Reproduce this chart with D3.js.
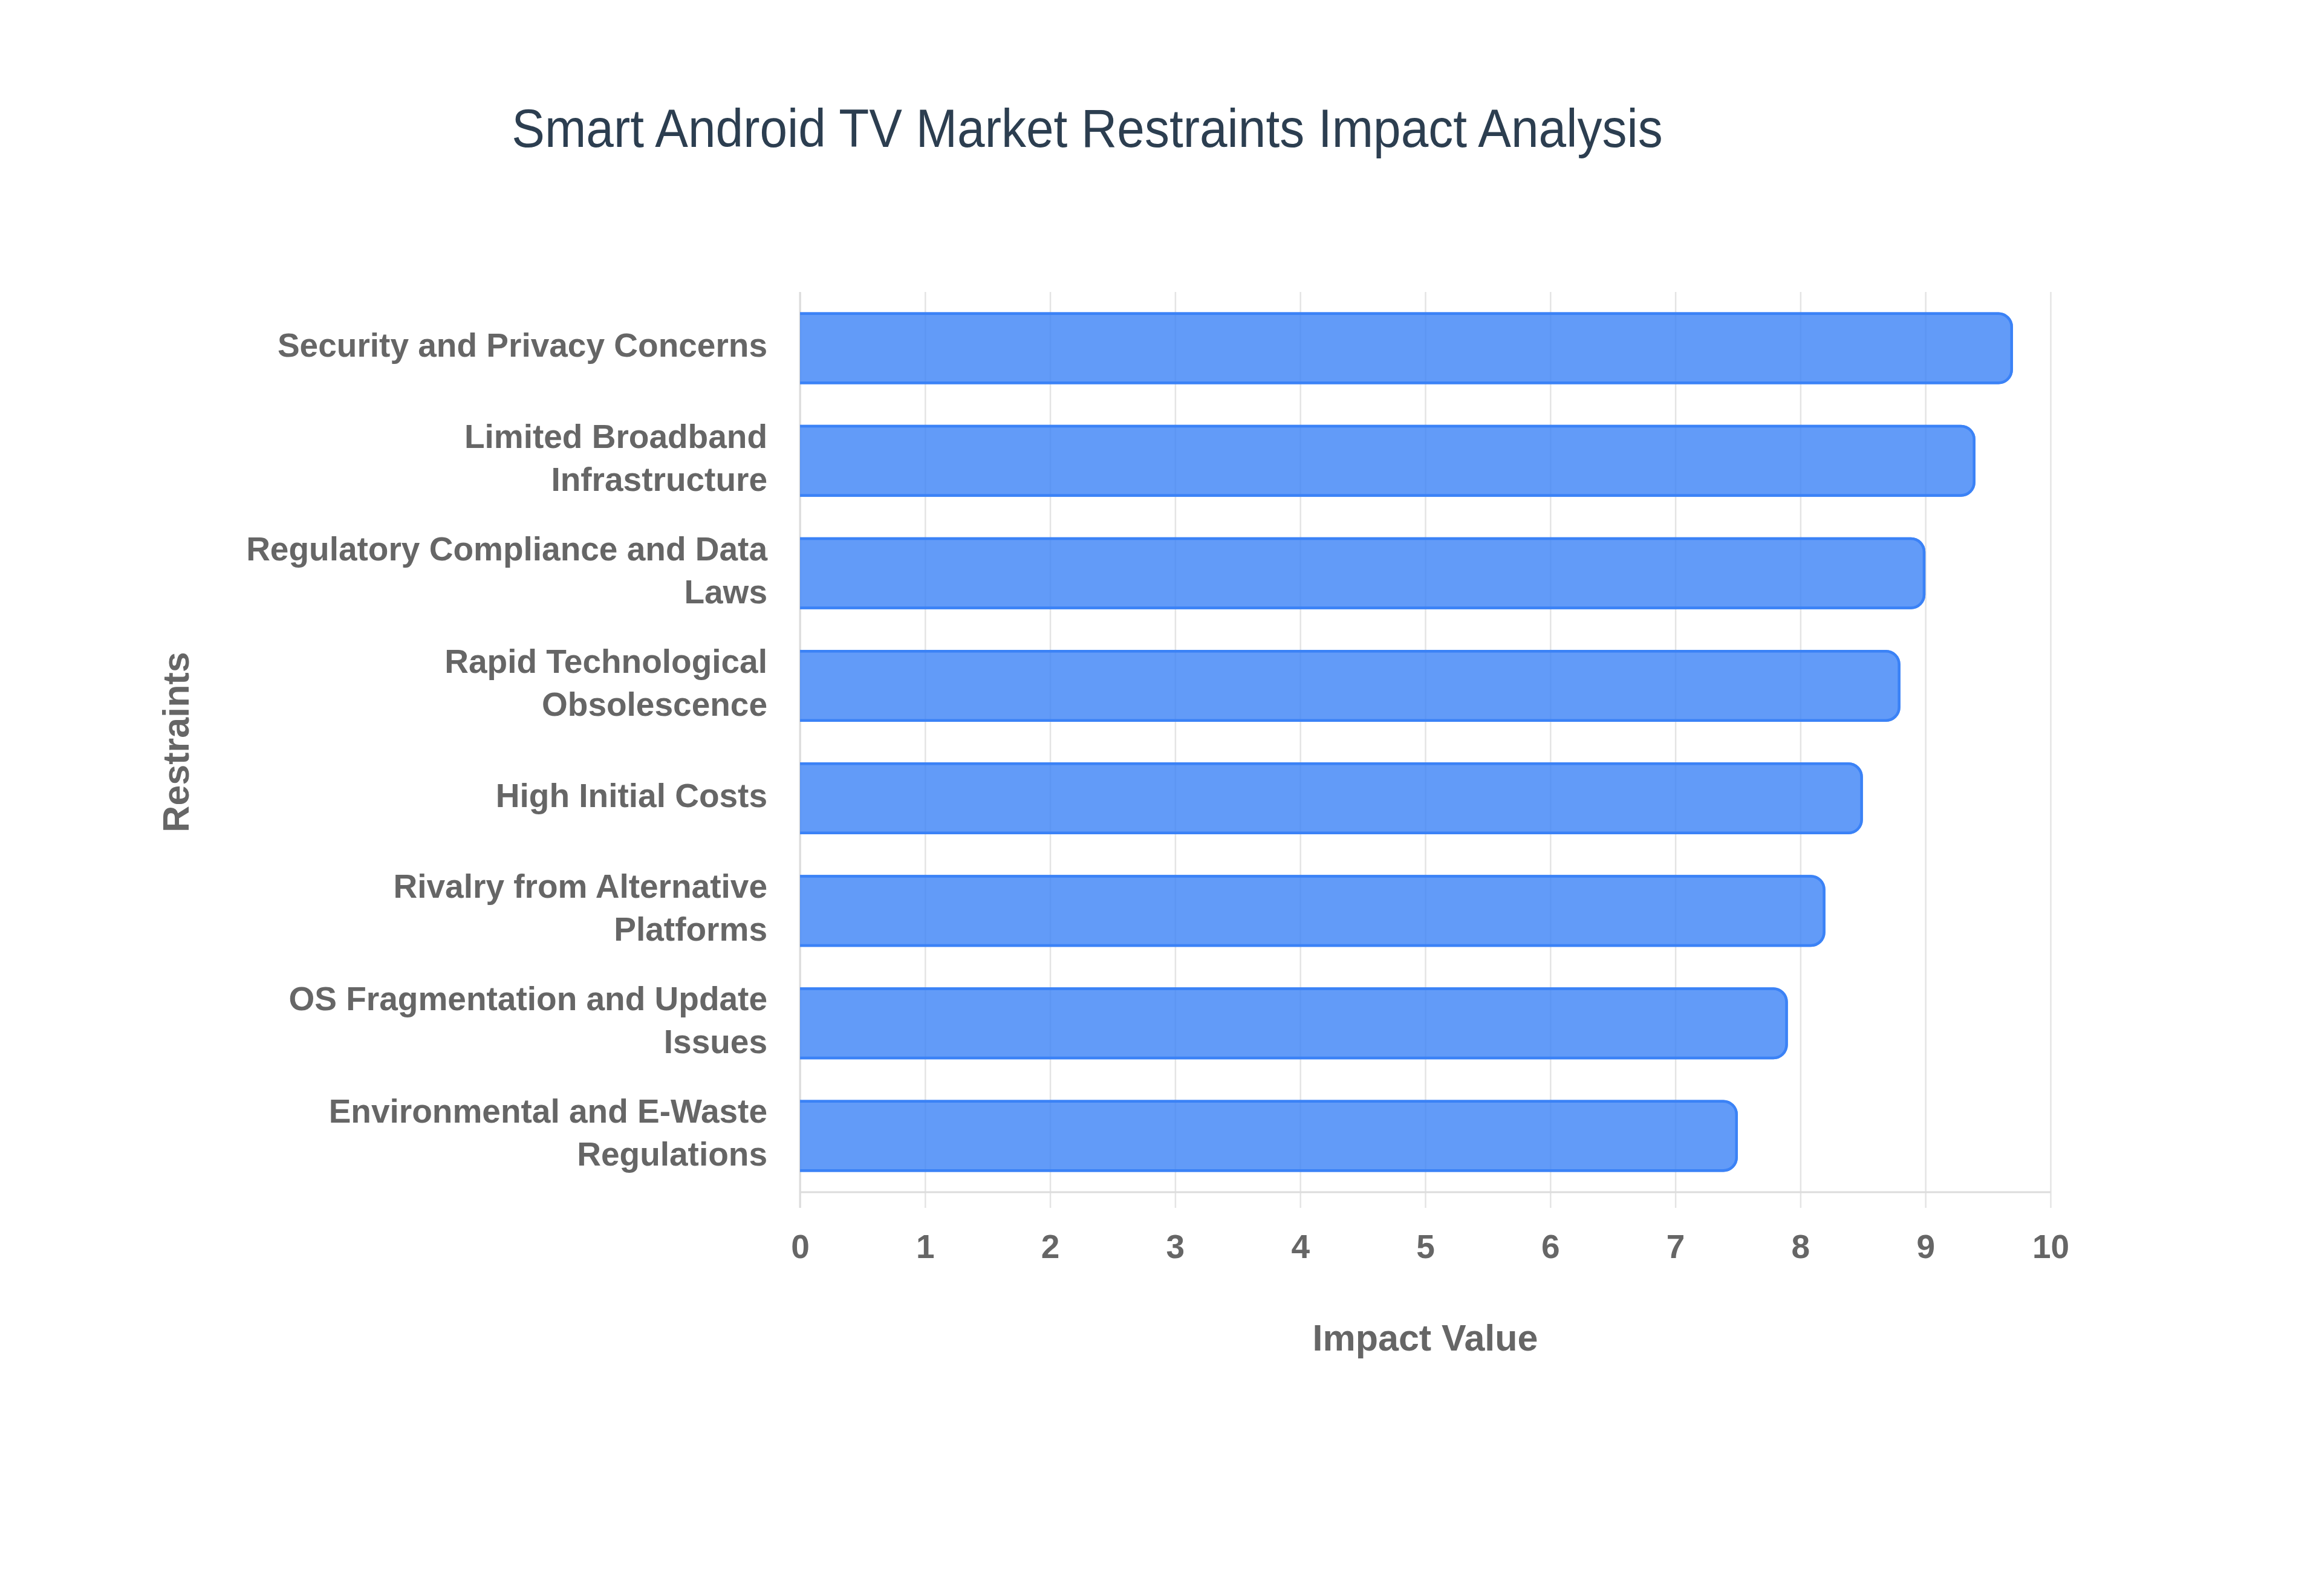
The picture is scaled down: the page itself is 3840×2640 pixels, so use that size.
<!DOCTYPE html>
<html>
<head>
<meta charset="utf-8">
<script src="https://cdn.jsdelivr.net/npm/d3@7"></script>
<style>
  html, body { margin: 0; padding: 0; background: #ffffff; }
  svg { display: block; }
</style>
</head>
<body>
<svg id="chart" width="3840" height="2640"></svg>
<script>
// ---- data ----
const chartTitle = "Smart Android TV Market Restraints Impact Analysis";
const xAxisTitle = "Impact Value";
const yAxisTitle = "Restraints";
const categories = [
  ["Security and Privacy Concerns"],
  ["Limited Broadband", "Infrastructure"],
  ["Regulatory Compliance and Data", "Laws"],
  ["Rapid Technological", "Obsolescence"],
  ["High Initial Costs"],
  ["Rivalry from Alternative", "Platforms"],
  ["OS Fragmentation and Update", "Issues"],
  ["Environmental and E-Waste", "Regulations"]
];
const impactValues = [9.7, 9.4, 9.0, 8.8, 8.5, 8.2, 7.9, 7.5];
const xTicks = [0, 1, 2, 3, 4, 5, 6, 7, 8, 9, 10];

// ---- layout ----
const W = 3840, H = 2640;
const plot = { left: 1323, right: 3391, top: 483, bottom: 1972 };
const labelFont = "'Liberation Sans', Arial, Helvetica, sans-serif";
const textGrey = "#666666";

const svg = d3.select("#chart");
svg.append("rect").attr("width", W).attr("height", H).attr("fill", "#ffffff");

const keys = categories.map(c => c.join(" "));
const x = d3.scaleLinear().domain([0, 10]).range([plot.left, plot.right]);
const y = d3.scaleBand().domain(keys).range([plot.top, plot.bottom])
  .paddingInner(0.36).paddingOuter(0.18);

// ---- grid + x axis ----
const tickExt = 26;
const xAxis = d3.axisBottom(x)
  .tickValues(xTicks)
  .tickFormat(d3.format("d"))
  .tickSizeInner(-(plot.bottom - plot.top + tickExt))
  .tickSizeOuter(0)
  .tickPadding(44);
const gx = svg.append("g")
  .attr("transform", `translate(0,${plot.bottom + tickExt})`)
  .call(xAxis);
gx.select(".domain").remove();
gx.selectAll(".tick line").attr("stroke", "#e4e4e4").attr("stroke-width", 2.5);
gx.selectAll(".tick text")
  .attr("fill", textGrey)
  .attr("font-family", labelFont)
  .attr("font-weight", "bold")
  .attr("font-size", 55);

// axis lines
svg.append("line")
  .attr("x1", plot.left).attr("x2", plot.right)
  .attr("y1", plot.bottom).attr("y2", plot.bottom)
  .attr("stroke", "#dcdcdc").attr("stroke-width", 3);
svg.append("line")
  .attr("x1", plot.left).attr("x2", plot.left)
  .attr("y1", plot.top).attr("y2", plot.bottom + tickExt)
  .attr("stroke", "#dcdcdc").attr("stroke-width", 3);

// ---- bars ----
const sw = 4.5, radius = 24;
function barPath(x0, x1, y0, y1, r, closed) {
  const rr = Math.min(r, (y1 - y0) / 2, Math.max(0, x1 - x0));
  const p = d3.path();
  p.moveTo(x0, y0);
  p.lineTo(x1 - rr, y0);
  p.arcTo(x1, y0, x1, y0 + rr, rr);
  p.lineTo(x1, y1 - rr);
  p.arcTo(x1, y1, x1 - rr, y1, rr);
  p.lineTo(x0, y1);
  if (closed) p.closePath();
  return p.toString();
}
const bars = svg.append("g");
impactValues.forEach((v, i) => {
  const k = keys[i];
  const y0 = y(k), y1 = y(k) + y.bandwidth();
  const x0 = x(0), x1 = x(v);
  bars.append("path")
    .attr("d", barPath(x0, x1, y0, y1, radius, true))
    .attr("fill", "rgba(59,130,246,0.8)");
  bars.append("path")
    .attr("d", barPath(x0, x1 - sw / 2, y0 + sw / 2, y1 - sw / 2, radius - sw / 2, false))
    .attr("fill", "none")
    .attr("stroke", "rgb(59,130,246)")
    .attr("stroke-width", sw);
});

// ---- y axis labels ----
const yPad = 54;
const yAxis = d3.axisLeft(y).tickSize(0).tickPadding(yPad);
const gy = svg.append("g")
  .attr("transform", `translate(${plot.left},0)`)
  .call(yAxis);
gy.select(".domain").remove();
const lineH = 71;
gy.selectAll(".tick text").each(function (d, i) {
  const lines = categories[i];
  const t = d3.select(this)
    .attr("fill", textGrey)
    .attr("font-family", labelFont)
    .attr("font-weight", "bold")
    .attr("font-size", 55)
    .attr("dy", null)
    .attr("text-anchor", "end")
    .text(null);
  const first = 14 - (lines.length - 1) * lineH / 2;
  lines.forEach((ln, j) => {
    t.append("tspan")
      .attr("x", -yPad)
      .attr("y", first + j * lineH)
      .text(ln);
  });
});

// ---- axis titles ----
svg.append("text")
  .attr("x", (plot.left + plot.right) / 2)
  .attr("y", 2234)
  .attr("text-anchor", "middle")
  .attr("fill", textGrey)
  .attr("font-family", labelFont)
  .attr("font-weight", "bold")
  .attr("font-size", 61)
  .text(xAxisTitle);

svg.append("text")
  .attr("transform", `translate(312,${(plot.top + plot.bottom) / 2}) rotate(-90)`)
  .attr("text-anchor", "middle")
  .attr("fill", textGrey)
  .attr("font-family", labelFont)
  .attr("font-weight", "bold")
  .attr("font-size", 61)
  .text(yAxisTitle);

// ---- title ----
svg.append("text")
  .attr("transform", "translate(1798,243) scale(1,1.075)")
  .attr("text-anchor", "middle")
  .attr("fill", "#2c3e50")
  .attr("font-family", "'Liberation Sans', Arial, Helvetica, sans-serif")
  .attr("font-size", 82)
  .text(chartTitle);
</script>
</body>
</html>
